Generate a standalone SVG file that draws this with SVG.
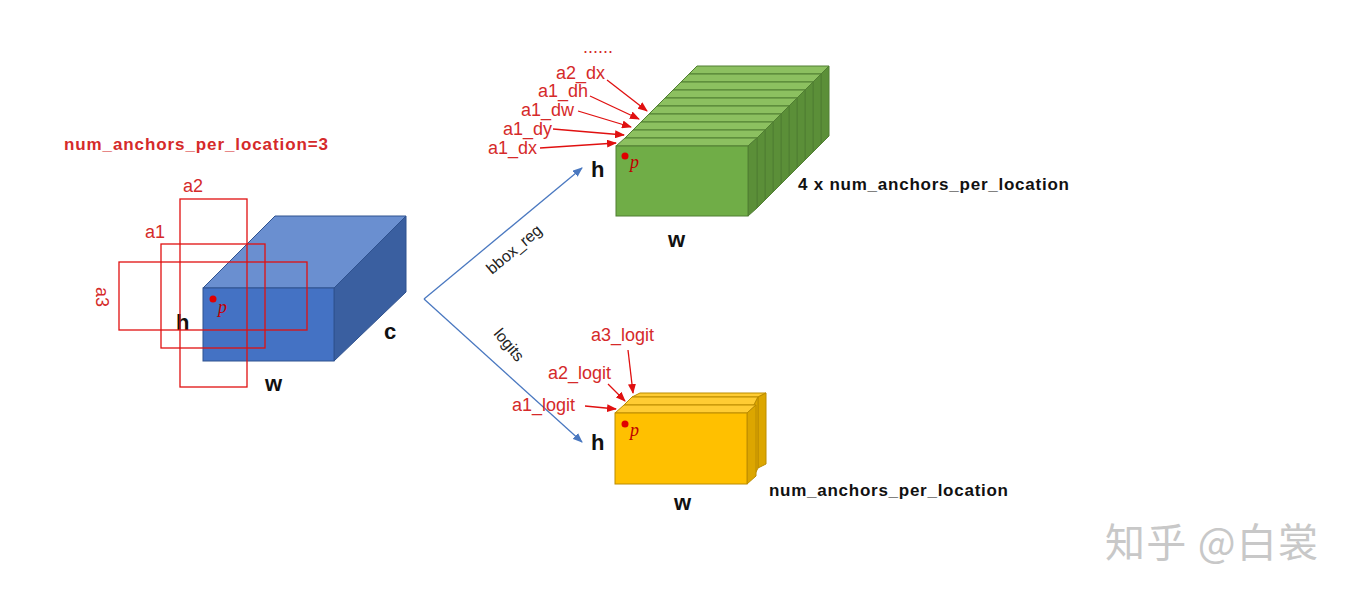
<svg xmlns="http://www.w3.org/2000/svg" width="1352" height="598" viewBox="0 0 1352 598">
<defs>
<style>
.lbl{font-family:"Liberation Sans",Arial,sans-serif;font-size:18px;fill:#d52a2a}
.blk{font-family:"Liberation Sans",Arial,sans-serif;font-size:22px;font-weight:bold;fill:#111}
.bb{font-family:"Liberation Sans",Arial,sans-serif;font-size:17px;font-weight:bold;fill:#111}
.it{font-family:"Liberation Serif",serif;font-style:italic;font-size:18px;fill:#c00000}
.blue{stroke:#4a78c0;stroke-width:1.3;fill:none}
.red{stroke:#e01010;stroke-width:1.3;fill:none}
.g1{fill:#70ad47;stroke:#507e32}.g2{fill:#8cc060;stroke:#507e32}.g3{fill:#5b8f38;stroke:#507e32}
.y1{fill:#ffc000;stroke:#bc8c00}.y2{fill:#ffcc33;stroke:#bc8c00}.y3{fill:#dca600;stroke:#bc8c00}
</style>
<marker id="ab" markerWidth="10" markerHeight="8" refX="9" refY="4" orient="auto" markerUnits="userSpaceOnUse"><path d="M0,0L10,4L0,8z" fill="#4a78c0"/></marker>
<marker id="ar" markerWidth="10" markerHeight="8" refX="9" refY="4" orient="auto" markerUnits="userSpaceOnUse"><path d="M0,0L10,4L0,8z" fill="#e01010"/></marker>
</defs>
<rect width="1352" height="598" fill="#fff"/>
<text class="lbl" x="64" y="150" textLength="264" style="font-weight:bold;font-size:17px">num_anchors_per_location=3</text>
<g id="cube">
<polygon points="203,288 275,216 406,216 334,288" fill="#6a8fd0" stroke="#2f528f"/>
<polygon points="334,288 406,216 406,292 334,361" fill="#3a5fa0" stroke="#2f528f"/>
<rect x="203" y="288" width="131" height="73" fill="#4472c4" stroke="#2f528f"/>
<circle cx="213" cy="299" r="3.5" fill="#e00000"/><text class="it" x="218" y="313">p</text>
<text class="blk" x="176" y="330">h</text><text class="blk" x="265" y="391">w</text><text class="blk" x="384" y="339">c</text>
</g>
<g id="anchors">
<rect x="180" y="199" width="67" height="188" class="red" stroke="#c82020"/>
<rect x="161" y="244" width="104" height="104" class="red" stroke="#c82020"/>
<rect x="119" y="262" width="188" height="68" class="red" stroke="#c82020"/>
<text class="lbl" x="183" y="192">a2</text><text class="lbl" x="145" y="238">a1</text>
<text class="lbl" transform="translate(96,287) rotate(90)">a3</text>
</g>
<g id="connectors">
<line x1="424" y1="299" x2="582" y2="168" class="blue" marker-end="url(#ab)"/>
<line x1="424" y1="299" x2="582" y2="442" class="blue" marker-end="url(#ab)"/>
<line x1="540" y1="148" x2="616" y2="143" class="red" marker-end="url(#ar)"/>
<line x1="553" y1="129" x2="624" y2="135" class="red" marker-end="url(#ar)"/>
<line x1="578" y1="111" x2="631" y2="127" class="red" marker-end="url(#ar)"/>
<line x1="590" y1="96" x2="639" y2="119" class="red" marker-end="url(#ar)"/>
<line x1="607" y1="80" x2="647" y2="111" class="red" marker-end="url(#ar)"/>
<line x1="585" y1="406" x2="616" y2="409" class="red" marker-end="url(#ar)"/>
<line x1="608" y1="384" x2="625" y2="401" class="red" marker-end="url(#ar)"/>
<line x1="628" y1="350" x2="633" y2="393" class="red" marker-end="url(#ar)"/>
</g>
<text style="font-family:'Liberation Sans',Arial,sans-serif;font-size:16px;fill:#222" transform="translate(492,275) rotate(-40)">bbox_reg</text>
<text style="font-family:'Liberation Sans',Arial,sans-serif;font-size:16px;fill:#222" transform="translate(493,334) rotate(50)">logits</text>
<g id="green">
<polygon class="g2" points="689,74 697,66 829,66 821,74"/><polygon class="g3" points="821,74 829,66 829,136 821,144"/>
<polygon class="g2" points="681,82 689,74 821,74 813,82"/><polygon class="g3" points="813,82 821,74 821,144 813,152"/>
<polygon class="g2" points="673,90 681,82 813,82 805,90"/><polygon class="g3" points="805,90 813,82 813,152 805,160"/>
<polygon class="g2" points="665,98 673,90 805,90 797,98"/><polygon class="g3" points="797,98 805,90 805,160 797,168"/>
<polygon class="g2" points="657,106 665,98 797,98 789,106"/><polygon class="g3" points="789,106 797,98 797,168 789,176"/>
<polygon class="g2" points="649,114 657,106 789,106 781,114"/><polygon class="g3" points="781,114 789,106 789,176 781,184"/>
<polygon class="g2" points="641,122 649,114 781,114 773,122"/><polygon class="g3" points="773,122 781,114 781,184 773,192"/>
<polygon class="g2" points="633,130 641,122 773,122 765,130"/><polygon class="g3" points="765,130 773,122 773,192 765,200"/>
<polygon class="g2" points="625,138 633,130 765,130 757,138"/><polygon class="g3" points="757,138 765,130 765,200 757,208"/>
<polygon class="g2" points="616,146 625,138 757,138 748,146"/><polygon class="g3" points="748,146 757,138 757,208 748,216"/>
<rect class="g1" x="616" y="146" width="132" height="70"/>
<circle cx="625" cy="156" r="3.5" fill="#e00000"/><text class="it" x="630" y="168">p</text>
<text class="blk" x="591" y="177">h</text><text class="blk" x="668" y="247">w</text>
<text class="bb" x="798" y="190" textLength="271">4 x num_anchors_per_location</text>
<text class="lbl" x="488" y="154">a1_dx</text><text class="lbl" x="503" y="135">a1_dy</text>
<text class="lbl" x="521" y="116">a1_dw</text><text class="lbl" x="538" y="97">a1_dh</text>
<text class="lbl" x="556" y="79">a2_dx</text><text class="lbl" x="583" y="53">......</text>
</g>
<g id="yellow">
<polygon class="y2" points="632,397 640,393 766,393 758,397"/><polygon class="y3" points="758,397 766,393 766,464 758,468"/>
<polygon class="y2" points="624,405 632,397 758,397 754,405"/><polygon class="y3" points="754,405 758,397 758,468 754,476"/>
<polygon class="y2" points="615,413 624,405 756,405 747,413"/><polygon class="y3" points="747,413 756,405 756,476 747,484"/>
<rect class="y1" x="615" y="413" width="132" height="71"/>
<circle cx="625" cy="424" r="3.5" fill="#e00000"/><text class="it" x="630" y="436">p</text>
<text class="blk" x="591" y="450">h</text><text class="blk" x="674" y="510">w</text>
<text class="bb" x="769" y="496" textLength="239">num_anchors_per_location</text>
<text class="lbl" x="512" y="411">a1_logit</text><text class="lbl" x="548" y="379">a2_logit</text><text class="lbl" x="591" y="341">a3_logit</text>
</g>
<text x="1105" y="557" textLength="213" style="font-family:'Noto Sans CJK SC',sans-serif;font-size:40px;fill:#c8c8c8">知乎 @白裳</text>
</svg>
